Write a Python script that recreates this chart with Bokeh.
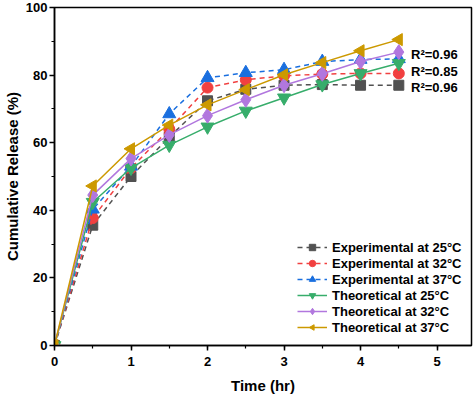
import math
from bokeh.plotting import figure
from bokeh.models import Range1d, SingleIntervalTicker, Legend, LegendItem, Label, ColumnDataSource
from bokeh.embed import file_html
from bokeh.resources import INLINE

time_hr = [0, 0.5, 1, 1.5, 2, 2.5, 3, 3.5, 4, 4.5]
exp_25 = [0, 35.6, 50.0, 61.7, 72.4, 75.8, 77.0, 77.2, 77.0, 77.0]
exp_32 = [0, 37.7, 52.5, 64.0, 76.3, 78.6, 79.8, 80.3, 80.5, 80.5]
exp_37 = [0, 40.3, 53.0, 68.5, 79.2, 80.7, 81.6, 84.0, 84.6, 84.8]
theo_25 = [0, 42.4, 52.5, 59.3, 64.7, 69.4, 73.3, 77.2, 80.5, 83.5]
theo_32 = [0, 44.5, 55.3, 62.3, 68.0, 72.7, 77.0, 80.4, 84.0, 86.8]
theo_37 = [0, 47.2, 58.2, 65.2, 71.2, 75.7, 80.1, 83.7, 87.2, 90.5]
r2_labels = ["R\u00b2=0.96", "R\u00b2=0.85", "R\u00b2=0.96"]
r2_y = [86.0, 81.0, 76.3]
r2_x = 4.66

FONT = "Liberation Sans"

p = figure(width=474, height=396, output_backend="svg", toolbar_location=None,
           x_range=Range1d(0, 5.45), y_range=Range1d(0, 100),
           min_border_left=0, min_border_right=3, min_border_top=7, min_border_bottom=0)
p.xgrid.visible = False
p.ygrid.visible = False
p.outline_line_color = "black"
p.outline_line_width = 1.5
p.background_fill_color = "white"
p.border_fill_color = "white"

p.xaxis.ticker = SingleIntervalTicker(interval=1, num_minor_ticks=2)
p.yaxis.ticker = SingleIntervalTicker(interval=20, num_minor_ticks=2)
for ax in (p.xaxis[0], p.yaxis[0]):
    ax.axis_line_width = 1.5
    ax.axis_line_color = "black"
    ax.major_tick_in = 0
    ax.major_tick_out = 5
    ax.minor_tick_in = 0
    ax.minor_tick_out = 3
    ax.major_tick_line_width = 1.5
    ax.minor_tick_line_width = 1.2
    ax.major_label_text_font = FONT
    ax.major_label_text_font_style = "bold"
    ax.major_label_text_font_size = "13px"
    ax.major_label_text_color = "black"
    ax.axis_label_text_font = FONT
    ax.axis_label_text_font_style = "bold"
    ax.axis_label_text_font_size = "15px"
    ax.axis_label_text_color = "black"
p.xaxis.axis_label = "Time (hr)"
p.yaxis.axis_label = "Cumulative Release (%)"
p.xaxis.major_label_standoff = 6
p.xaxis.axis_label_standoff = 8
p.yaxis.major_label_standoff = 2
p.yaxis.axis_label_standoff = 2

series = [
    ("Experimental at 25\u00b0C", exp_25, "#515151", "square", "5 4"),
    ("Experimental at 32\u00b0C", exp_32, "#F14040", "circle", "5 4"),
    ("Experimental at 37\u00b0C", exp_37, "#1A6FDF", "triangle", "5 4"),
    ("Theoretical at 25\u00b0C", theo_25, "#37AD6B", "inverted_triangle", "solid"),
    ("Theoretical at 32\u00b0C", theo_32, "#B177DE", "diamond", "solid"),
    ("Theoretical at 37\u00b0C", theo_37, "#CC9900", "left_triangle", "solid"),
]
sizes = {"square": 10, "circle": 11, "triangle": 13, "inverted_triangle": 13, "diamond": 15}

items = []
for name, vals, color, marker, dash in series:
    src = ColumnDataSource(dict(x=time_hr, y=vals))
    ln = p.line("x", "y", source=src, line_color=color, line_width=1.5, line_dash=dash)
    if marker == "left_triangle":
        sc = p.ngon("x", "y", radius=7, radius_units="screen", n=3, angle=math.pi / 2,
                    source=src, fill_color=color, line_color=color)
    else:
        sc = p.scatter("x", "y", source=src, marker=marker, size=sizes[marker],
                       fill_color=color, line_color=color)
    items.append(LegendItem(label=name, renderers=[ln, sc]))

legend = Legend(items=items, location=(243, 10), padding=0, spacing=0,
                glyph_width=30, glyph_height=16, label_height=16, label_standoff=5,
                border_line_color=None, background_fill_alpha=0,
                label_text_font=FONT, label_text_font_style="bold",
                label_text_font_size="13px", label_text_color="black")
p.add_layout(legend, "center")

for lab, yy in zip(r2_labels, r2_y):
    p.add_layout(Label(x=r2_x, y=yy, text=lab, text_font=FONT, text_font_style="bold",
                       text_font_size="13px", text_baseline="middle", text_align="left",
                       text_color="black"))

open("out.html", "w").write(file_html(p, INLINE))
